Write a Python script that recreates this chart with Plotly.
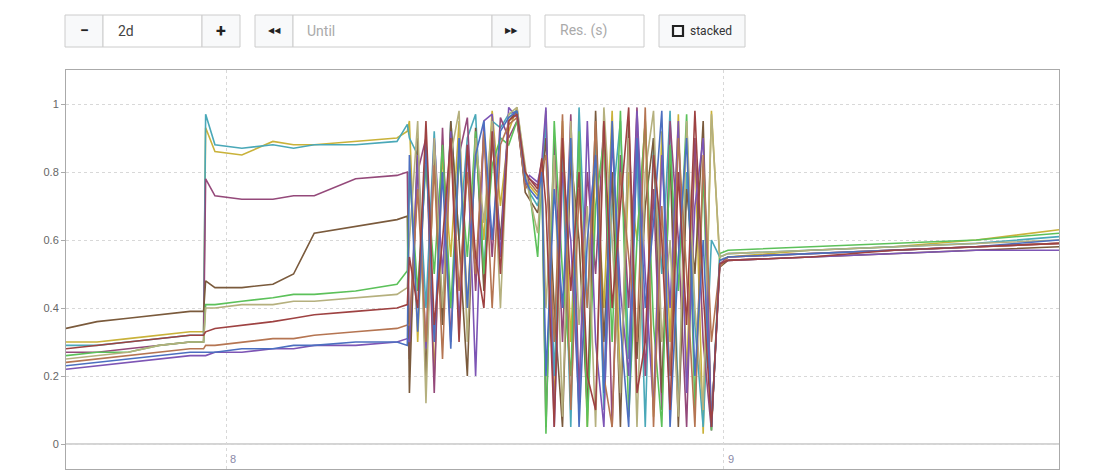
import plotly.graph_objects as go

x_pre = [0, 1.5, 3, 4.5, 6, 6.65, 6.75, 7.2, 8.5, 10, 11, 12, 14, 16, 16.5]
x_ch1 = [16.6, 17.0, 17.4, 17.8, 18.2, 18.6, 19.0, 19.4, 19.8, 20.2, 20.6, 21.0, 21.4, 21.8, 22.2]
x_mid = [22.4, 22.8, 23.0]
x_ch2 = [23.2, 23.6, 24.0, 24.4, 24.8, 25.2, 25.6, 26.0, 26.4, 26.8, 27.2, 27.6, 28.0, 28.4, 28.8, 29.2, 29.6, 30.0, 30.4, 30.8, 31.2]
x_post = [31.6, 32.0, 36.0, 40.0, 44.0, 48.0]

names = ["gold", "teal", "maroon", "brown", "green", "purple", "khaki", "salmon", "blue", "red"]
colors = ["#c9b23a", "#4aa8b8", "#94497a", "#7a5a3c", "#5cc15a", "#7d55b5", "#b5b07e", "#b57552", "#4c6fc0", "#9e4242"]

pre = [
    [.30, .30, .31, .32, .33, .33, .93, .86, .85, .89, .88, .88, .89, .90, .92],
    [.29, .29, .30, .31, .32, .32, .97, .88, .87, .88, .87, .88, .88, .89, .94],
    [.27, .27, .28, .29, .30, .30, .78, .73, .72, .72, .73, .73, .78, .79, .80],
    [.34, .36, .37, .38, .39, .39, .48, .46, .46, .47, .50, .62, .64, .66, .67],
    [.26, .27, .27, .29, .30, .30, .41, .41, .42, .43, .44, .44, .45, .47, .51],
    [.22, .23, .24, .25, .26, .26, .26, .27, .27, .28, .28, .29, .29, .30, .31],
    [.25, .26, .27, .29, .30, .30, .40, .40, .41, .41, .42, .42, .43, .44, .46],
    [.24, .25, .26, .27, .28, .28, .29, .29, .30, .31, .31, .32, .33, .34, .35],
    [.23, .24, .25, .26, .27, .27, .27, .27, .28, .28, .29, .29, .30, .30, .29],
    [.28, .29, .30, .31, .32, .32, .33, .34, .35, .36, .37, .38, .39, .40, .41],
]
ch1 = [
    [.95, .30, .90, .20, .85, .55, .95, .40, .88, .60, .98, .70, .92, .99, .80],
    [.90, .85, .40, .92, .35, .95, .60, .90, .97, .50, .95, .93, .97, .98, .78],
    [.25, .80, .90, .15, .93, .30, .85, .96, .45, .92, .55, .96, .90, .95, .76],
    [.15, .90, .20, .88, .35, .95, .60, .20, .93, .45, .90, .60, .95, .98, .74],
    [.80, .45, .82, .50, .88, .40, .85, .55, .92, .50, .82, .90, .88, .95, .79],
    [.30, .85, .28, .90, .50, .92, .35, .88, .20, .95, .97, .55, .99, .96, .77],
    [.60, .95, .12, .90, .40, .85, .98, .30, .90, .65, .95, .40, .97, .99, .81],
    [.35, .75, .30, .82, .25, .90, .45, .80, .50, .92, .40, .88, .94, .96, .75],
    [.85, .33, .88, .30, .80, .28, .90, .40, .85, .95, .60, .92, .96, .98, .78],
    [.55, .40, .95, .35, .60, .90, .30, .88, .55, .40, .92, .50, .95, .97, .80],
]
mid = [
    [.76, .73, .80], [.74, .70, .78], [.78, .76, .82], [.72, .68, .75], [.75, .55, .80],
    [.79, .77, .83], [.73, .62, .79], [.77, .74, .81], [.75, .72, .80], [.78, .75, .84],
]
ch2 = [
    [.98, .10, .95, .30, .90, .05, .85, .40, .98, .15, .80, .60, .95, .08, .92, .30, .97, .20, .88, .03, .98],
    [.95, .20, .85, .05, .99, .40, .90, .10, .70, .95, .25, .85, .05, .90, .50, .98, .10, .80, .35, .05, .60],
    [.05, .90, .30, .97, .15, .80, .50, .95, .05, .85, .40, .99, .20, .75, .10, .95, .60, .05, .90, .30, .04],
    [.90, .40, .05, .85, .60, .10, .98, .30, .80, .05, .95, .25, .70, .90, .15, .85, .05, .75, .50, .95, .05],
    [.03, .95, .50, .20, .92, .05, .70, .90, .30, .98, .08, .60, .95, .35, .05, .88, .45, .97, .10, .80, .04],
    [.99, .05, .80, .60, .10, .95, .30, .05, .90, .45, .20, .98, .50, .10, .85, .40, .95, .15, .70, .90, .05],
    [.40, .85, .08, .95, .35, .70, .05, .99, .60, .15, .90, .05, .80, .98, .30, .60, .08, .95, .40, .10, .97],
    [.85, .30, .97, .10, .75, .40, .95, .20, .05, .80, .55, .30, .99, .05, .70, .20, .90, .50, .05, .85, .30],
    [.20, .75, .40, .90, .05, .60, .85, .15, .95, .35, .05, .90, .40, .65, .98, .05, .55, .90, .20, .60, .05],
    [.70, .05, .90, .45, .80, .20, .10, .95, .40, .70, .99, .15, .30, .85, .60, .10, .80, .35, .98, .45, .05],
]
post = [
    [.54, .55, .57, .58, .60, .63],
    [.55, .56, .57, .58, .59, .61],
    [.53, .55, .56, .57, .58, .59],
    [.52, .54, .55, .56, .57, .58],
    [.56, .57, .58, .59, .60, .62],
    [.53, .54, .55, .56, .57, .57],
    [.55, .56, .57, .58, .59, .60],
    [.52, .55, .56, .57, .58, .59],
    [.54, .55, .56, .57, .58, .60],
    [.53, .54, .55, .57, .58, .59],
]
y_ticks = [0, 0.2, 0.4, 0.6, 0.8, 1]
y_tick_text = ["0", "0.2", "0.4", "0.6", "0.8", "1"]
x_day_ticks = [7.74, 31.79]
x_day_text = ["8", "9"]

x_all = x_pre + x_ch1 + x_mid + x_ch2 + x_post
fig = go.Figure()
for i in range(len(names)):
    fig.add_trace(go.Scatter(
        x=x_all, y=pre[i] + ch1[i] + mid[i] + ch2[i] + post[i], mode="lines",
        name=names[i], line=dict(color=colors[i], width=1.6), hoverinfo="skip"))

OFF = 8  # page body margin
W, H = 1106 - 2 * OFF, 465
L, R, T, B = 66 - OFF, 1059 - OFF, 70 - OFF, 469 - OFF
def px(v): return (v - OFF - L) / (R - L)
def py(v): return (B - (v - OFF)) / (B - T)

shapes = []
annots = []
def box(x0, x1, fill):
    shapes.append(dict(type="rect", xref="paper", yref="paper", x0=px(x0), x1=px(x1),
                       y0=py(47), y1=py(15), fillcolor=fill, line=dict(color="#cccccc", width=1), layer="above"))
def txt(x, s, color="#333", size=14, anchor="left", family="Roboto, Arial"):
    annots.append(dict(xref="paper", yref="paper", x=px(x), y=py(31), text=s, showarrow=False,
                       xanchor=anchor, yanchor="middle", font=dict(color=color, size=size, family=family)))

box(65, 103, "#f8f9fa"); box(103, 202, "#ffffff"); box(202, 240, "#f8f9fa")
box(255, 293, "#f8f9fa"); box(293, 492, "#ffffff"); box(492, 530, "#f8f9fa")
box(545, 644, "#ffffff"); box(659, 745, "#f8f9fa")
txt(84, "<b>−</b>", "#222", 16, "center")
txt(116, "2d", "#444", 14)
txt(221, "<b>+</b>", "#222", 18, "center")
txt(274, "◀◀", "#222", 8, "center", "DejaVu Sans")
txt(511, "▶▶", "#222", 8, "center", "DejaVu Sans")
txt(305, "Until", "#aaaaaa", 14)
txt(558, "Res. (s)", "#aaaaaa", 14)
txt(688, "stacked", "#333", 12)
shapes.append(dict(type="rect", xref="paper", yref="paper", x0=px(673), x1=px(683), y0=py(36), y1=py(26),
                   line=dict(color="#222", width=2.2), fillcolor="rgba(0,0,0,0)", layer="above"))
shapes.append(dict(type="line", xref="paper", yref="y", x0=0, x1=1, y0=0, y1=0,
                   line=dict(color="#d4d4d4", width=2), layer="below"))
for xv, t in zip(x_day_ticks, x_day_text):
    annots.append(dict(xref="x", yref="paper", x=xv + 0.1, y=py(459), text=t, showarrow=False,
                       xanchor="left", yanchor="middle", font=dict(color="#8a8aa8", size=11, family="Arial")))

fig.update_layout(
    width=W, height=H, margin=dict(l=L, r=W - R, t=T, b=H - B),
    paper_bgcolor="white", plot_bgcolor="white", showlegend=False,
    shapes=shapes, annotations=annots,
    xaxis=dict(range=[0, 48], tickvals=x_day_ticks, ticktext=["", ""], showgrid=True,
               gridcolor="#d8d8d8", griddash="dot", zeroline=False, showline=True, mirror=True,
               linecolor="#aaaaaa", linewidth=1, ticks=""),
    yaxis=dict(range=[-0.0735, 1.1], tickvals=y_ticks, ticktext=y_tick_text, showgrid=True,
               gridcolor="#d8d8d8", griddash="dot", zeroline=False, showline=True, mirror=True,
               linecolor="#aaaaaa", linewidth=1, ticks="outside", ticklen=4, tickcolor="#aaaaaa",
               tickfont=dict(color="#666", size=11, family="Arial")),
)
fig.write_html("out.html")
